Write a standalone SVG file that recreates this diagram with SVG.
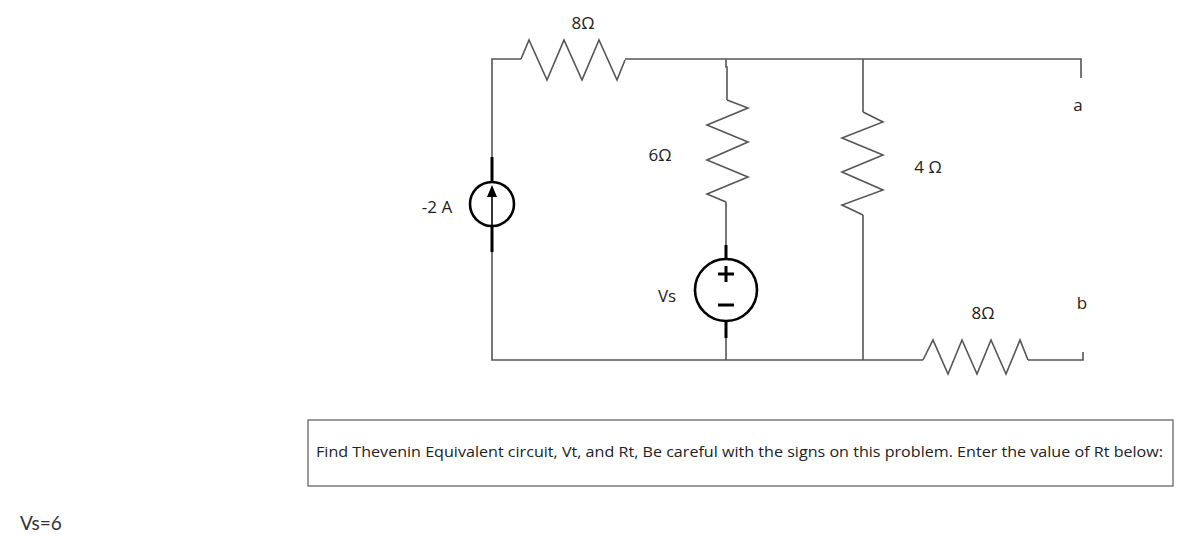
<svg xmlns="http://www.w3.org/2000/svg" width="1184" height="554" viewBox="0 0 1184 554">
<style>
.w{fill:none;stroke:#555;stroke-width:1.6;stroke-linejoin:miter}
.t{fill:none;stroke:#000;stroke-width:3}
.c{fill:#fff;stroke:#000;stroke-width:2.6}
.l{font-family:"Open Sans","Liberation Sans",sans-serif;font-size:17px;fill:#222}
</style>
<rect width="1184" height="554" fill="#fff"/>
<g id="connectors">
<polyline class="w" points="492,157 492,59 521,59"/>
<polyline class="w" points="625,59 1081,59 1081,78"/>
<polyline class="w" points="492,252 492,360 923,360"/>
<polyline class="w" points="726,59 726,67 727,67 727,100"/>
<line class="w" x1="726" y1="202" x2="726" y2="245"/>
<line class="w" x1="726" y1="338" x2="726" y2="360"/>
<line class="w" x1="863" y1="59" x2="863" y2="112"/>
<line class="w" x1="863" y1="215" x2="863" y2="360"/>
<polyline class="w" points="1028,360 1083,360 1083,352"/>
</g>
<g id="R1"><polyline class="w" points="521,59 529,40 547,80 564,40 582,80 599,40 617,80 625,60"/>
<text class="l" x="583" y="29" text-anchor="middle">8Ω</text></g>
<g id="R2"><polyline class="w" points="727,100 748,108 707,125 748,142 707,160 748,177 707,194 726,202"/>
<text class="l" x="660" y="161" text-anchor="middle">6Ω</text></g>
<g id="R3"><polyline class="w" points="863,112 883,122 842,138 883,155 842,172 883,190 842,205 863,215"/>
<text class="l" x="928" y="173" text-anchor="middle">4 Ω</text></g>
<g id="R4"><polyline class="w" points="923,360 933,340 948,374 962,340 977,374 991,340 1006,374 1020,340 1028,360"/>
<text class="l" x="983" y="319" text-anchor="middle">8Ω</text></g>
<g id="I1">
<line class="t" x1="492" y1="157" x2="492" y2="182"/>
<line class="t" x1="492" y1="226" x2="492" y2="252"/>
<circle class="c" cx="492" cy="204" r="22"/>
<line x1="492" y1="225" x2="492" y2="192" stroke="#000" stroke-width="1.6"/>
<polygon points="492,185 487,197 497,197" fill="#000"/>
<text class="l" x="437" y="213" text-anchor="middle" font-size="13">-2 A</text>
</g>
<g id="V1">
<line class="t" x1="726" y1="245" x2="726" y2="262"/>
<line class="t" x1="726" y1="318" x2="726" y2="338"/>
<circle class="c" cx="726" cy="290" r="31"/>
<line x1="718" y1="274" x2="734" y2="274" stroke="#000" stroke-width="3"/>
<line x1="726" y1="266" x2="726" y2="282" stroke="#000" stroke-width="3"/>
<line x1="718" y1="305" x2="734" y2="305" stroke="#000" stroke-width="3"/>
<text class="l" x="667" y="302" text-anchor="middle">Vs</text>
</g>
<g id="a"><text class="l" x="1078" y="111" text-anchor="middle">a</text></g>
<g id="b"><text class="l" x="1082" y="309" text-anchor="middle">b</text></g>
<g id="box">
<rect x="308" y="420" width="865" height="66" fill="#fff" stroke="#666" stroke-width="1.3"/>
<text x="316" y="457" textLength="847" lengthAdjust="spacingAndGlyphs" font-family="'Open Sans','Liberation Sans',sans-serif" font-size="14" fill="#222">Find Thevenin Equivalent circuit, Vt, and Rt, Be careful with the signs on this problem. Enter the value of Rt below:</text>
</g>
<text x="20" y="530" font-family="Lato,'Liberation Sans',sans-serif" font-size="19" fill="#333">Vs=6</text>
</svg>
